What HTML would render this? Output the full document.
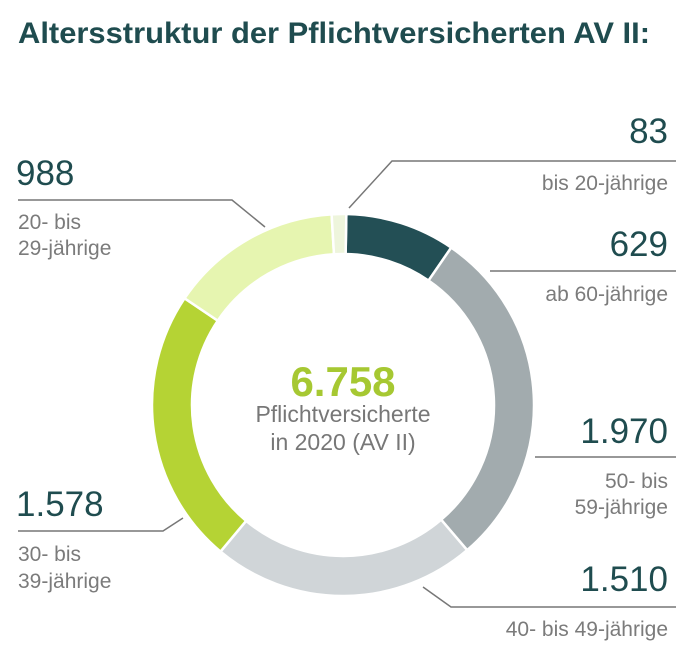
<!DOCTYPE html>
<html><head><meta charset="utf-8"><style>
html,body{margin:0;padding:0;background:#fff;}
svg{display:block;font-family:"Liberation Sans Narrow","Liberation Sans",sans-serif;}
.num{fill:#1f4c4f;font-size:35px;}
.lab{fill:#7b7b7b;font-size:21px;}
.ld{stroke:#777;stroke-width:1.5;fill:none;}
</style></head><body>
<svg id="chart" width="690" height="665" viewBox="0 0 690 665">
<text x="18" y="43" font-size="30" font-weight="bold" fill="#1f4c4f" textLength="632" lengthAdjust="spacingAndGlyphs">Altersstruktur der Pflichtversicherten AV II:</text>
<g id="slices"></g>
<text x="343" y="396" text-anchor="middle" font-size="42" font-weight="bold" fill="#a6c832">6.758</text>
<text x="343" y="422" text-anchor="middle" font-size="23" fill="#777">Pflichtversicherte</text>
<text x="343" y="450" text-anchor="middle" font-size="23" fill="#777">in 2020 (AV II)</text>

<g>
<polyline class="ld" points="349,208 392,161 676,161"/>
<text class="num" x="668" y="143" text-anchor="end">83</text>
<text class="lab" x="668" y="190" text-anchor="end">bis 20-jährige</text>
</g>
<g>
<polyline class="ld" points="490,271 676,271"/>
<text class="num" x="668" y="256" text-anchor="end">629</text>
<text class="lab" x="668" y="301" text-anchor="end">ab 60-jährige</text>
</g>
<g>
<polyline class="ld" points="535,457 676,457"/>
<text class="num" x="668" y="443" text-anchor="end">1.970</text>
<text class="lab" x="668" y="488" text-anchor="end">50- bis</text>
<text class="lab" x="668" y="514" text-anchor="end">59-jährige</text>
</g>
<g>
<polyline class="ld" points="423,587 451,607 676,607"/>
<text class="num" x="668" y="591" text-anchor="end">1.510</text>
<text class="lab" x="668" y="636" text-anchor="end">40- bis 49-jährige</text>
</g>
<g>
<polyline class="ld" points="18,531 163,531 183,518"/>
<text class="num" x="16" y="516">1.578</text>
<text class="lab" x="18" y="561">30- bis</text>
<text class="lab" x="18" y="588">39-jährige</text>
</g>
<g>
<polyline class="ld" points="18,200 232,200 265,227"/>
<text class="num" x="16" y="185">988</text>
<text class="lab" x="18" y="229">20- bis</text>
<text class="lab" x="18" y="255">29-jährige</text>
</g>
</svg>
<script>
const categories = ["ab 60", "50-59", "40-49", "30-39", "20-29", "bis 20"];
const values = [629, 1970, 1510, 1578, 988, 83];
const colors = ["#234f55", "#a2abae", "#d0d5d8", "#b5d334", "#e6f5b0", "#eef5dc"];
const cx = 343, cy = 405, R = 191, r = 151, start = 1;
const g = document.getElementById('slices');
const total = values.reduce((a, b) => a + b, 0);
function pt(rad, deg) {
  const a = (deg - 90) * Math.PI / 180;
  return [cx + rad * Math.cos(a), cy + rad * Math.sin(a)];
}
let ang = start;
values.forEach((v, i) => {
  const sweep = v / total * 360;
  const a0 = ang, a1 = ang + sweep;
  const large = sweep > 180 ? 1 : 0;
  const p0 = pt(R, a0), p1 = pt(R, a1), p2 = pt(r, a1), p3 = pt(r, a0);
  const path = document.createElementNS('http://www.w3.org/2000/svg', 'path');
  path.setAttribute('d', `M${p0[0]},${p0[1]} A${R},${R} 0 ${large} 1 ${p1[0]},${p1[1]} L${p2[0]},${p2[1]} A${r},${r} 0 ${large} 0 ${p3[0]},${p3[1]} Z`);
  path.setAttribute('fill', colors[i]);
  path.setAttribute('stroke', '#fff');
  path.setAttribute('stroke-width', '2.5');
  
  
  g.appendChild(path);
  ang = a1;
});
</script>
</body></html>
